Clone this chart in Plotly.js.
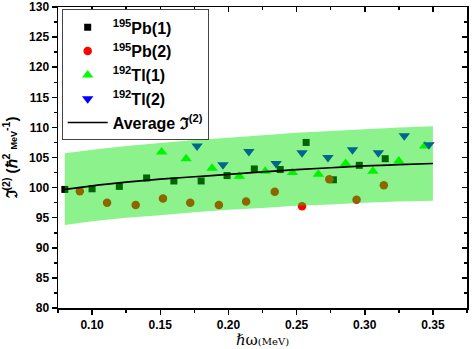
<!DOCTYPE html>
<html>
<head>
<meta charset="utf-8">
<script src="https://cdn.plot.ly/plotly-3.0.1.min.js"></script>
<style>html,body{margin:0;padding:0;background:#fff;}#chart{width:474px;height:349px;}</style>
</head>
<body>
<div id="chart"></div>
<script>
// ---- data ----
var pb1X = [0.080, 0.100, 0.120, 0.140, 0.160, 0.180, 0.199, 0.219, 0.238, 0.257, 0.277, 0.296, 0.315];
var pb1Y = [99.7, 99.8, 100.2, 101.6, 101.1, 101.1, 102.0, 103.1, 103.0, 107.5, 101.3, 103.7, 104.8];

var pb2X = [0.091, 0.111, 0.132, 0.152, 0.172, 0.193, 0.213, 0.234, 0.254, 0.274, 0.294, 0.314];
var pb2Y = [99.4, 97.5, 97.1, 98.2, 97.5, 97.1, 97.7, 99.3, 96.9, 101.4, 98.0, 100.4];

var tl1X = [0.151, 0.169, 0.188, 0.208, 0.227, 0.247, 0.266, 0.286, 0.306, 0.325, 0.344];
var tl1Y = [105.9, 104.8, 103.2, 101.9, 102.7, 102.5, 102.2, 104.0, 102.7, 104.4, 106.9];

var tl2X = [0.177, 0.196, 0.215, 0.235, 0.254, 0.273, 0.291, 0.310, 0.329, 0.347];
var tl2Y = [106.9, 103.8, 106.0, 104.0, 105.8, 105.0, 106.3, 105.8, 108.6, 107.1];

var avgX = [0.08, 0.10, 0.125, 0.15, 0.175, 0.20, 0.225, 0.25, 0.275, 0.30, 0.325, 0.35];
var avgY = [99.7, 100.3, 100.9, 101.4, 101.8, 102.2, 102.6, 103.0, 103.3, 103.6, 103.8, 104.0];
var bandUpper = [105.7, 106.3, 106.9, 107.4, 107.9, 108.3, 108.7, 109.1, 109.4, 109.7, 110.0, 110.2];
var bandLower = [93.8, 94.4, 95.0, 95.4, 95.9, 96.3, 96.6, 97.0, 97.2, 97.5, 97.7, 97.8];

var seriesNames = ['<sup>195</sup>Pb(1)', '<sup>195</sup>Pb(2)', '<sup>192</sup>Tl(1)', '<sup>192</sup>Tl(2)', 'Average ℑ<sup>(2)</sup>'];

// ---- traces ----
var bandX = avgX.concat(avgX.slice().reverse());
var bandY = bandUpper.concat(bandLower.slice().reverse());

var traces = [
  {x: pb1X, y: pb1Y, name: seriesNames[0], mode: 'markers', type: 'scatter',
   marker: {symbol: 'square', size: 7, color: '#000000'}},
  {x: pb2X, y: pb2Y, name: seriesNames[1], mode: 'markers', type: 'scatter',
   marker: {symbol: 'circle', size: 8.5, color: '#ff0000'}},
  {x: tl1X, y: tl1Y, name: seriesNames[2], mode: 'markers', type: 'scatter',
   marker: {symbol: 'triangle-up', size: 10, color: '#00ff00'}},
  {x: tl2X, y: tl2Y, name: seriesNames[3], mode: 'markers', type: 'scatter',
   marker: {symbol: 'triangle-down', size: 10, color: '#0000ff'}},
  {x: bandX, y: bandY, mode: 'none', type: 'scatter', fill: 'toself',
   fillcolor: 'rgba(0,228,0,0.45)', showlegend: false, hoverinfo: 'skip'},
  {x: avgX, y: avgY, name: seriesNames[4], mode: 'lines', type: 'scatter',
   line: {color: '#000000', width: 1.7, shape: 'spline'}},
  {x: [], y: [], xaxis: 'x2', yaxis: 'y2', showlegend: false, type: 'scatter', mode: 'markers'}
];

var tickFont = {family: 'Liberation Sans, Arial, sans-serif', size: 12, color: '#000', weight: 'bold'};

var layout = {
  width: 474, height: 349,
  margin: {l: 58, r: 7, t: 7, b: 41},
  paper_bgcolor: '#fff', plot_bgcolor: '#fff',
  showlegend: true,
  legend: {
    x: 0.009, y: 0.992, xanchor: 'left', yanchor: 'top',
    bgcolor: '#fff', bordercolor: '#444', borderwidth: 1,
    font: {family: 'Liberation Sans, Arial, sans-serif', size: 16, color: '#000', weight: 'bold'},
    tracegroupgap: 0, itemwidth: 40
  },
  xaxis: {
    range: [0.075, 0.375], tickvals: [0.10, 0.15, 0.20, 0.25, 0.30, 0.35],
    ticktext: ['0.10', '0.15', '0.20', '0.25', '0.30', '0.35'],
    ticks: 'outside', ticklen: 5, tickwidth: 1.5, tickcolor: '#000',
    minor: {dtick: 0.025, tick0: 0.075, ticks: 'outside', ticklen: 3, tickwidth: 1.5, tickcolor: '#000'},
    showline: true, linecolor: '#000', linewidth: 1.5, showgrid: false, zeroline: false,
    tickfont: tickFont, ticklabeloverflow: 'allow',
    title: {text: 'ℏω<span style="font-size:10px">(MeV)</span>', standoff: 2,
            font: {family: 'DejaVu Serif, serif', size: 15, color: '#000'}}
  },
  yaxis: {
    range: [80, 130], dtick: 5, tick0: 80,
    ticks: 'outside', ticklen: 5, tickwidth: 1.5, tickcolor: '#000',
    minor: {dtick: 2.5, ticks: 'outside', ticklen: 3, tickwidth: 1.5, tickcolor: '#000'},
    showline: true, linecolor: '#000', linewidth: 1.5, showgrid: false, zeroline: false,
    tickfont: tickFont, ticklabeloverflow: 'allow',
    title: {text: 'ℑ<sup>(2)</sup> (ℏ<sup>2</sup> <span style="font-size:9px">MeV</span><sup>-1</sup>)', standoff: 8,
            font: {family: 'Liberation Sans, Arial, sans-serif', size: 15, color: '#000', weight: 'bold'}}
  },
  xaxis2: {
    overlaying: 'x', side: 'top', anchor: 'y2', range: [0.075, 0.375],
    tickvals: [0.10, 0.15, 0.20, 0.25, 0.30, 0.35], showticklabels: false,
    ticks: 'inside', ticklen: 5, tickwidth: 1.5, tickcolor: '#000',
    minor: {dtick: 0.025, tick0: 0.075, ticks: 'inside', ticklen: 3, tickwidth: 1.5, tickcolor: '#000'},
    showline: true, linecolor: '#000', linewidth: 1.5, showgrid: false, zeroline: false
  },
  yaxis2: {
    overlaying: 'y', side: 'right', anchor: 'x2', range: [80, 130], dtick: 5, tick0: 80,
    showticklabels: false,
    ticks: 'inside', ticklen: 5, tickwidth: 1.5, tickcolor: '#000',
    minor: {dtick: 2.5, ticks: 'inside', ticklen: 3, tickwidth: 1.5, tickcolor: '#000'},
    showline: true, linecolor: '#000', linewidth: 1.5, showgrid: false, zeroline: false
  }
};

Plotly.newPlot('chart', traces, layout, {displayModeBar: false, staticPlot: true});
</script>
</body>
</html>
